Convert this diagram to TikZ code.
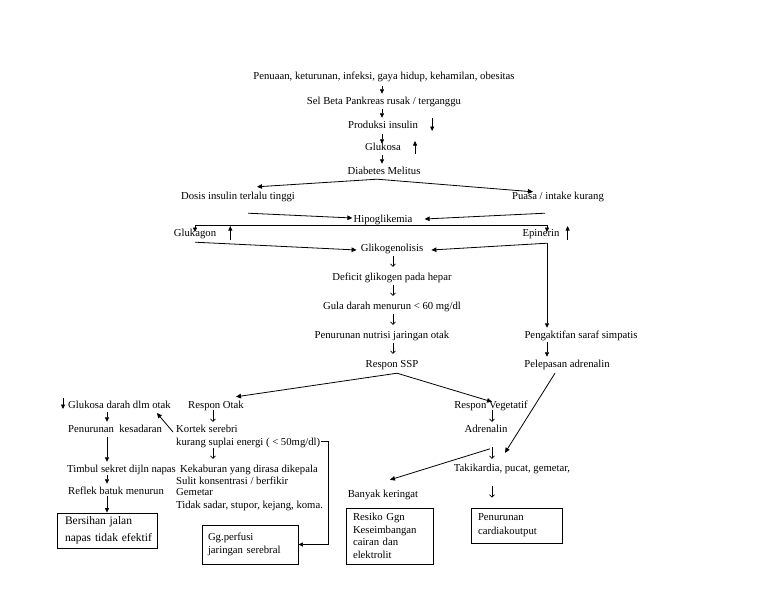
\documentclass[tikz,border=0pt]{standalone}
\usepackage{fontspec}
\setmainfont{Liberation Serif}
\usetikzlibrary{arrows.meta,calc}
\begin{document}
\begin{tikzpicture}[x=1pt,y=-1pt,
 every node/.style={font=\fontsize{10.7}{13}\selectfont},
 lbl/.style={inner sep=1pt,text height=9pt,text depth=1pt},
 box/.style={draw,line width=0.9pt,align=left,inner ysep=3pt},
 farr/.style={line width=0.7pt,-{Triangle[length=4.5pt,width=4pt]}},
 tarr/.style={line width=0.6pt,-{Straight Barb[length=2.5pt,width=5pt]}},
 ln/.style={line width=0.8pt,-{Triangle[length=5pt,width=4.5pt]}}
]
\useasboundingbox[fill=white] (0,0) rectangle (768,594);

% top chain
\node[lbl] (pen) at (384,76) {Penuaan, keturunan, infeksi, gaya hidup, kehamilan, obesitas};
\node[lbl] (sel) at (384,100) {Sel Beta Pankreas rusak / terganggu};
\node[lbl] (prod) at (383,124) {Produksi insulin};
\node[lbl] (glu) at (383,146) {Glukosa};
\node[lbl] (dm) at (384,170) {Diabetes Melitus};
\node[lbl] (dosis) at (238,195) {Dosis insulin terlalu tinggi};
\node[lbl] (puasa) at (558,195) {Puasa / intake kurang};
\node[lbl] (hipo) at (383,218) {Hipoglikemia};
\node[lbl] (glukagon) at (195,232) {Glukagon};
\node[lbl] (epin) at (541,232) {Epinerin};
\node[lbl] (glik) at (392,247) {Glikogenolisis};
\node[lbl] (def) at (392,276) {Deficit glikogen pada hepar};
\node[lbl] (gula) at (392,305) {Gula darah menurun < 60 mg/dl};
\node[lbl] (penur) at (382,334) {Penurunan nutrisi jaringan otak};
\node[lbl] (ssp) at (392,363) {Respon SSP};
\node[lbl] (peng) at (581,334) {Pengaktifan saraf simpatis};
\node[lbl] (pel) at (567,363) {Pelepasan adrenalin};

% left part
\node[lbl,anchor=west] (gdo) at (67,404) {Glukosa darah dlm otak};
\node[lbl] (ro) at (216,404) {Respon Otak};
\node[lbl,anchor=west] (pk) at (67,428) {Penurunan\ \ kesadaran};
\node[lbl,anchor=west] (ko) at (175,428) {Kortek serebri};
\node[lbl,anchor=west] (ks) at (175,441) {kurang suplai energi ( < 50mg/dl)};
\node[lbl,anchor=west] (ts) at (66,468) {Timbul sekret dijln napas};
\node[lbl,anchor=west] (kek) at (179,468) {Kekaburan yang dirasa dikepala};
\node[lbl,anchor=west] (sul) at (175,480) {Sulit konsentrasi / berfikir};
\node[lbl,anchor=west] (rb) at (67,490) {Reflek batuk menurun};
\node[lbl,anchor=west] (gem) at (175,491) {Gemetar};
\node[lbl,anchor=west] (tid) at (175,504.5) {Tidak sadar, stupor, kejang, koma.};

% right part
\node[lbl] (rv) at (491,404) {Respon Vegetatif};
\node[lbl] (adr) at (486,428) {Adrenalin};
\node[lbl] (tak) at (512,467) {Takikardia, pucat, gemetar,};
\node[lbl] (bk) at (383,493) {Banyak keringat};

% boxes
\node[box,font=\fontsize{11.5}{17}\selectfont,text width=92pt,inner xsep=4pt,minimum height=35pt] (bj) at (107,530.5) {\hspace*{4pt}Bersihan jalan\\\hspace*{4pt}napas tidak efektif};
\node[box,text width=84pt,inner xsep=6pt,minimum height=39pt] (gg) at (250,544.5) {Gg.perfusi\\jaringan serebral};
\node[box,text width=73pt,inner xsep=7pt,minimum height=56pt,font=\fontsize{10.7}{12.5}\selectfont] (res) at (389.5,536) {Resiko Ggn\\Keseimbangan\\cairan dan\\elektrolit};
\node[box,text width=77pt,inner xsep=7pt,minimum height=35pt,font=\fontsize{10.7}{14}\selectfont] (pc) at (516.5,525.5) {Penurunan\\cardiakoutput};

% reference x positions
\coordinate (tx) at (382,0);
\coordinate (colx) at (107,0);
\coordinate (rox) at (213,0);
\coordinate (mx) at (393,0);
\coordinate (ex) at (547,0);
\coordinate (vx) at (492,0);

% top chain arrows
\draw[farr,shorten <=4pt] (tx |- pen.south) -- (tx |- sel.north);
\draw[farr,shorten <=3pt] (tx |- sel.south) -- (tx |- prod.north);
\draw[farr,shorten <=4pt,shorten >=-4pt] (tx |- prod.south) -- (tx |- glu.north);
\draw[farr,shorten <=3pt] (tx |- glu.south) -- (tx |- dm.north);

% indicator arrows
\draw[farr] ($(prod.east)+(13,-6)$) -- ++(0,13);
\draw[farr] ($(glu.east)+(13,8)$) -- ++(0,-13);
\draw[farr] ($(glukagon.east)+(13,8)$) -- ++(0,-14);
\draw[farr] ($(epin.east)+(7,8)$) -- ++(0,-14);
\draw[farr] ($(gdo.west)+(-4,-6)$) -- ++(0,11);

% DM fork
\coordinate (dmA) at ($(dm.south)+(-7,3)$);
\draw[ln] (dmA) -- ($(dosis.north)+(19,-2)$);
\draw[ln] (dmA) -- ($(puasa.north)+(-25,3)$);
\draw[ln] ($(dosis.south)+(10,12)$) -- (hipo.west);
\draw[ln] ($(puasa.south)+(-13,12)$) -- ($(hipo.east)+(11,1)$);
\draw[farr] ($(hipo.south)+(0,1)$) -| (glukagon.center);
\draw[farr] ($(hipo.south)+(0,1)$) -| (ex |- epin.center);
\draw[ln] ($(glukagon.south)+(0,4)$) -- ($(glik.west)+(-3,3)$);
\coordinate (eA) at ($(ex |- epin.south)+(0,5)$);
\draw[ln] (eA) -- ($(glik.east)+(7,3)$);
\draw[farr] (eA) -- (ex |- peng.north);
\draw[farr,shorten <=2pt] (ex |- peng.south) -- (ex |- pel.north);

% middle thin arrows
\foreach \a/\b in {glik/def,def/gula,gula/penur,penur/ssp}
  \draw[tarr,shorten <=3pt,shorten >=3pt] (mx |- \a.south) -- (mx |- \b.north);

% SSP fork
\coordinate (sA) at ($(ssp.south)+(5,4)$);
\draw[ln] (sA) -- ($(ro.north)+(20,-1)$);
\draw[ln] (sA) -- ($(rv.north)+(1,4)$);
\draw[ln] ($(pel.south)+(-12,4)$) -- ($(tak.north)+(-7,-8)$);

% right column
\draw[tarr] (vx |- rv.south) -- (vx |- adr.north);
\draw[tarr,shorten <=13pt,shorten >=2pt] (vx |- adr.south) -- (vx |- tak.north);
\draw[ln] ($(vx |- tak.north)+(-2,-12)$) -- ($(bk.north)+(7,-7)$);
\draw[tarr,shorten <=13pt,shorten >=10pt] (vx |- tak.south) -- (vx |- pc.north);

% left column
\draw[farr,shorten <=2pt] (colx |- gdo.south) -- (colx |- pk.north);
\draw[farr,shorten <=3pt] (colx |- pk.south) -- (colx |- ts.north);
\draw[farr,shorten <=1pt] (colx |- ts.south) -- (colx |- rb.north);
\draw[farr] (colx |- rb.south) -- (bj.north);

% respon otak column
\draw[tarr] (rox |- ro.south) -- (rox |- ko.north);
\draw[tarr,shorten <=1pt,shorten >=3pt] (rox |- ks.south) -- (rox |- kek.north);
\draw[ln] ($(ko.west)+(-2,4)$) -- ($(gdo.east)+(-15,9)$);
\draw[farr] (ks.east) -- ++(7,0) |- (gg.east);
\end{tikzpicture}
\end{document}
